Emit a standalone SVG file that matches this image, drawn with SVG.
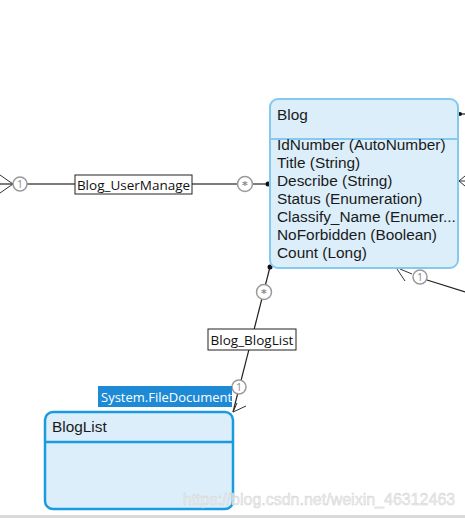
<svg xmlns="http://www.w3.org/2000/svg" width="465" height="518" viewBox="0 0 465 518">
<style>
.ent{fill:#dbeefa}
.t{font-family:"Liberation Sans","Open Sans",sans-serif;font-size:15.4px;fill:#1a1a1a}
.ln{stroke:#505050;stroke-width:1.6;fill:none}
.cf{stroke:#333;stroke-width:1;fill:none}
.mc{fill:#fff;stroke:#9a9a9a;stroke-width:1.5}
.mt{font-family:"Open Sans","Liberation Sans",sans-serif;font-size:10.5px;fill:#888;text-anchor:middle}
.ms{font-family:"DejaVu Sans",sans-serif;font-size:11px;font-weight:bold;fill:#888;text-anchor:middle}
.lb{fill:#fff;stroke:#222;stroke-width:1}
.lt{font-family:"Open Sans","Liberation Sans",sans-serif;font-size:13.5px;fill:#111;text-anchor:middle}
</style>
<rect x="0" y="0" width="465" height="518" fill="#fff"/>
<g id="connectors">
  <!-- Blog_UserManage -->
  <line class="ln" x1="0" y1="184" x2="268" y2="184"/>
  <path class="cf" d="M0,175 L13,184 L0,193"/>
  <circle class="mc" cx="20" cy="184" r="7"/>
  <text class="mt" x="20" y="188">1</text>
  <circle class="mc" cx="245" cy="184" r="7.5"/>
  <text class="ms" x="245" y="189">*</text>
  <circle cx="268" cy="184" r="2.5" fill="#111"/>
  <rect class="lb" x="75" y="175" width="117" height="19"/>
  <text class="lt" x="133.5" y="189.5">Blog_UserManage</text>
  <!-- Blog_BlogList -->
  <line class="ln" x1="270" y1="267" x2="233" y2="412" style="stroke-width:1.2;stroke:#222"/>
  <circle cx="270" cy="267" r="2.5" fill="#111"/>
  <circle class="mc" cx="264" cy="292" r="7.5"/>
  <text class="ms" x="264" y="297">*</text>
  <path class="cf" d="M237,403 L233,412 L246,406"/>
  <circle class="mc" cx="239" cy="387" r="7"/>
  <text class="mt" x="239" y="391">1</text>
  <rect class="lb" x="208" y="329" width="88" height="21"/>
  <text class="lt" x="252" y="345">Blog_BlogList</text>
  <!-- right side -->
  <line class="ln" x1="459" y1="114" x2="465" y2="114"/>
  <circle cx="460" cy="114" r="2" fill="#111"/>
  <path class="cf" d="M465,176 L459,181 L465,186 M459,181 L465,181"/>
  <path class="cf" d="M397,269 L405,281 M400,269 L412,274"/>
  <circle class="mc" cx="420" cy="277" r="7"/>
  <text class="mt" x="420" y="281">1</text>
  <line class="ln" x1="427" y1="280" x2="465" y2="292" style="stroke-width:1.2;stroke:#222"/>
</g>
<g id="Blog">
  <rect class="ent" x="270" y="99" width="188" height="169" rx="8" stroke="#86c9ef" stroke-width="2"/>
  <line x1="270" y1="139" x2="458" y2="139" stroke="#86c9ef" stroke-width="2"/>
  <text class="t" x="277" y="120">Blog</text>
  <text class="t" x="277" y="150">IdNumber (AutoNumber)</text>
  <text class="t" x="277" y="168">Title (String)</text>
  <text class="t" x="277" y="186">Describe (String)</text>
  <text class="t" x="277" y="204">Status (Enumeration)</text>
  <text class="t" x="277" y="222">Classify_Name (Enumer...</text>
  <text class="t" x="277" y="240">NoForbidden (Boolean)</text>
  <text class="t" x="277" y="258">Count (Long)</text>
</g>
<g id="BlogList">
  <rect class="ent" x="45" y="412" width="188" height="97" rx="8" stroke="#1a9be0" stroke-width="2.5"/>
  <line x1="45" y1="442" x2="233" y2="442" stroke="#1a9be0" stroke-width="2.5"/>
  <text class="t" x="52" y="432">BlogList</text>
  <rect x="98" y="386" width="134" height="21" fill="#1e8ad6"/>
  <text x="101" y="402" style="font-family:'Open Sans','Liberation Sans',sans-serif;font-size:13px;fill:#fff">System.FileDocument</text>
</g>
<text x="183" y="505" style="font-family:'Liberation Sans',sans-serif;font-size:16px;fill:#eeeeee;stroke:#cfcfcf;stroke-width:0.4">https://blog.csdn.net/weixin_46312463</text>
<rect x="0" y="515" width="465" height="3" fill="#d9d9d9"/>
</svg>
